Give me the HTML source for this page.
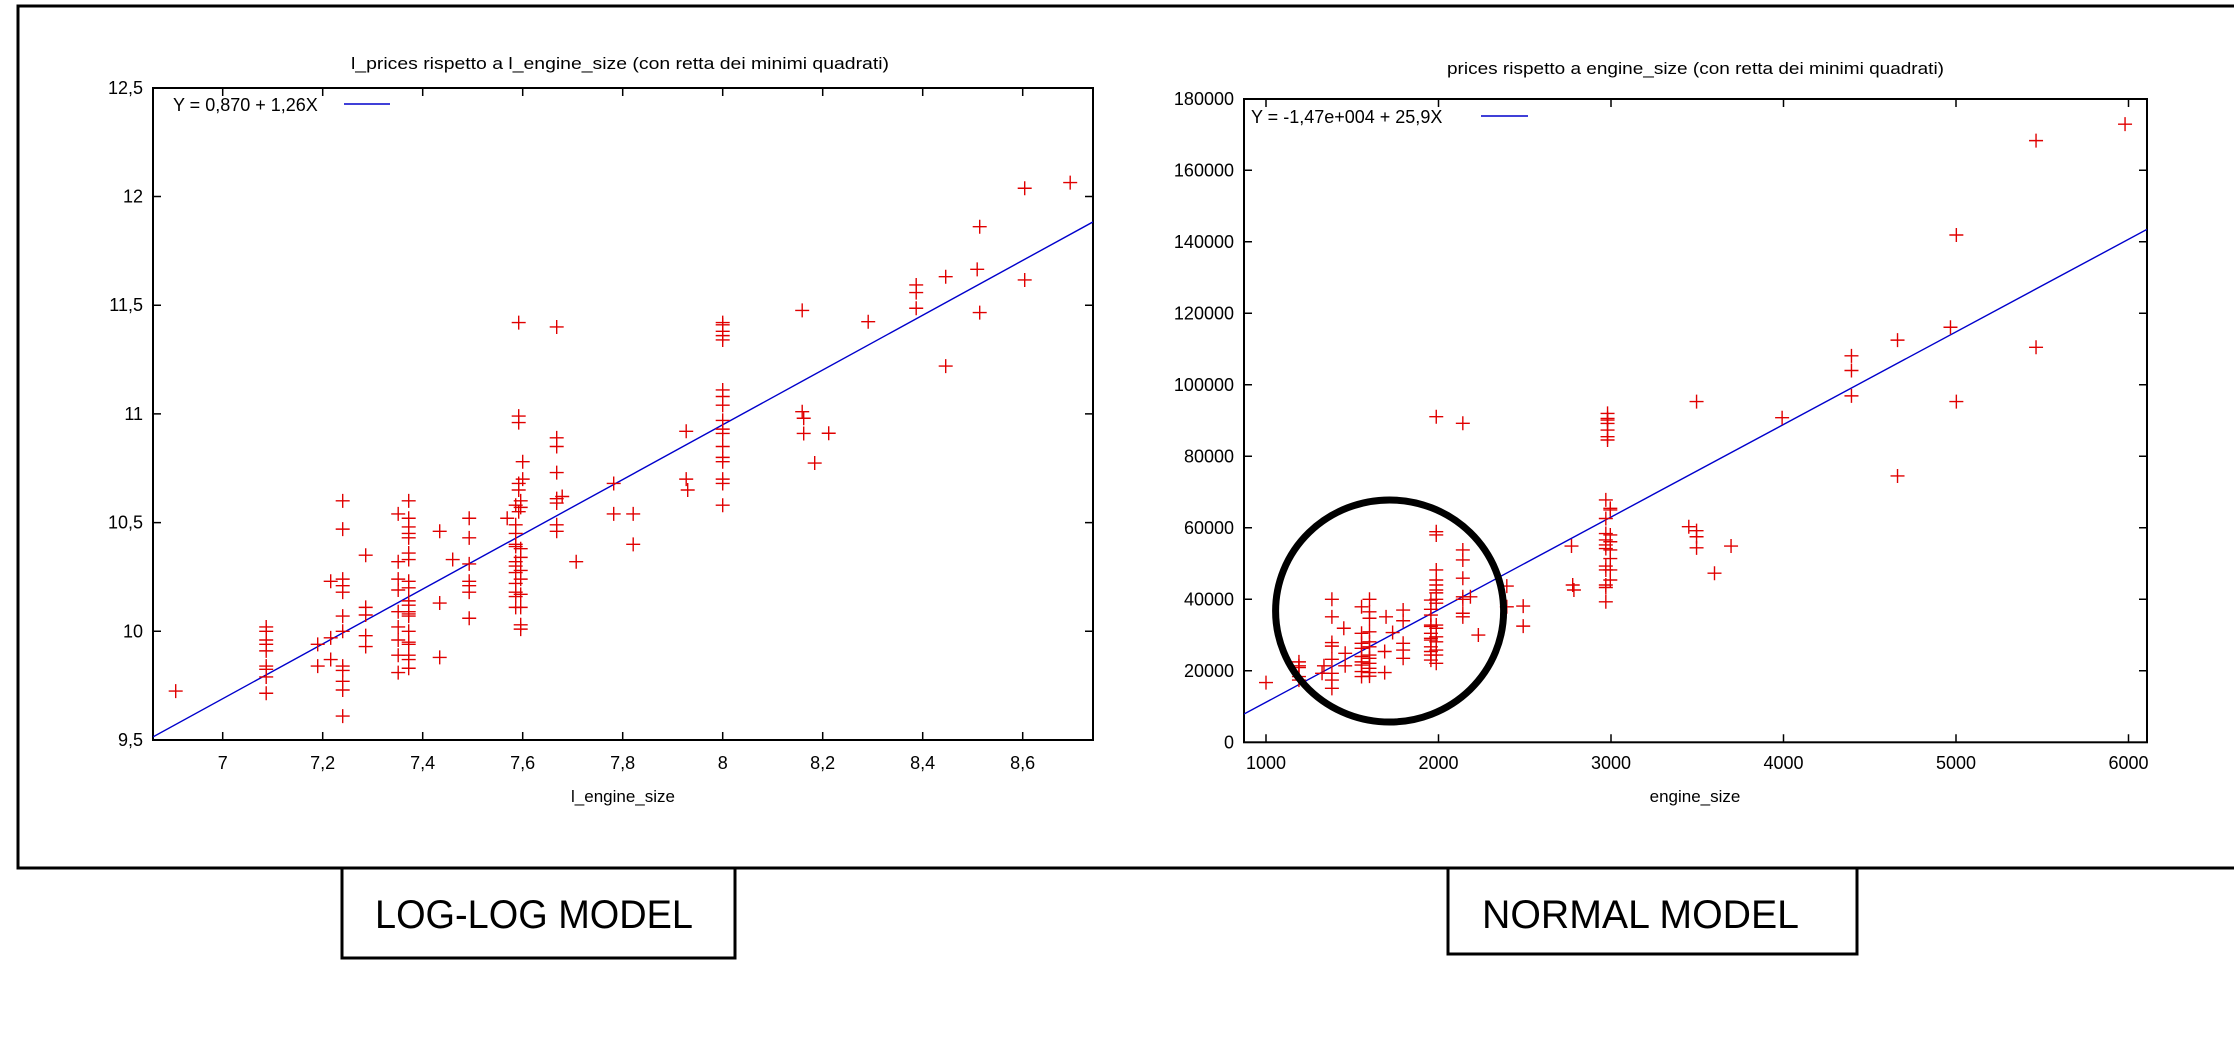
<!DOCTYPE html>
<html><head><meta charset="utf-8"><style>
html,body{margin:0;padding:0;background:#fff;}
svg{display:block;font-family:"Liberation Sans",sans-serif;}
</style></head><body>
<svg id="s" width="2234" height="1049" viewBox="0 0 2234 1049" xmlns="http://www.w3.org/2000/svg">
<defs>
<clipPath id="clipL"><rect x="153" y="88" width="940" height="652"/></clipPath>
<clipPath id="clipR"><rect x="1244" y="99" width="903" height="643"/></clipPath>
</defs>
<rect x="18" y="6" width="2230" height="862" fill="none" stroke="#000" stroke-width="3"/>
<g id="left"></g>
<g id="right"></g>
<ellipse cx="1389.6" cy="611" rx="114" ry="111" fill="none" stroke="#000" stroke-width="7"/>
<rect x="342" y="868" width="393" height="90" fill="#fff" stroke="#000" stroke-width="3"/>
<text x="375" y="928" font-size="40" textLength="318" lengthAdjust="spacingAndGlyphs">LOG-LOG MODEL</text>
<rect x="1448" y="868" width="409" height="86" fill="#fff" stroke="#000" stroke-width="3"/>
<text x="1482" y="928" font-size="40" textLength="317" lengthAdjust="spacingAndGlyphs">NORMAL MODEL</text>
</svg>
<script>
// ---- Left chart data (log-log) ----
const leftX = [6.906,
7.087,7.087,7.087,7.087,7.087,7.087,7.087,7.087,7.087,
7.19,7.19,7.216,7.216,7.216,
7.24,7.24,7.24,7.24,7.24,7.24,7.24,7.24,7.24,7.24,7.24,7.24,
7.286,7.286,7.286,7.286,7.286,
7.351,7.351,7.351,7.351,7.351,7.351,7.351,7.351,7.351,
7.372,7.372,7.372,7.372,7.372,7.372,7.372,7.372,7.372,7.372,7.372,7.372,7.372,7.372,7.372,7.372,7.372,7.372,7.372,7.372,
7.434,7.434,7.434,7.46,
7.493,7.493,7.493,7.493,7.493,7.493,7.493,
7.569,
7.586,7.586,7.586,7.586,7.586,7.586,7.586,7.586,7.586,7.586,7.586,7.586,
7.596,7.596,7.596,7.596,7.596,7.596,7.596,7.596,7.596,7.596,
7.592,7.592,7.592,7.592,7.592,7.592,7.60,7.60,
7.668,7.668,7.668,7.668,7.668,7.668,7.668,7.668,
7.679,7.707,7.782,7.782,7.821,7.821,7.927,7.927,7.93,
8.0,8.0,8.0,8.0,8.0,8.0,8.0,8.0,8.0,8.0,8.0,8.0,8.0,8.0,8.0,8.0,8.0,
8.159,8.159,8.162,8.162,8.184,8.212,8.291,8.387,8.387,8.387,8.446,8.446,8.509,8.514,8.514,8.604,8.604,8.695];
const leftY = [9.725,
10.02,10.0,9.96,9.94,9.91,9.84,9.825,9.79,9.715,
9.94,9.84,10.23,9.87,9.97,
10.6,10.47,10.24,10.21,10.18,10.07,10.0,9.84,9.82,9.77,9.73,9.61,
10.35,10.11,10.075,9.98,9.93,
10.54,10.32,10.24,10.19,10.09,10.02,9.96,9.89,9.81,
10.6,10.52,10.48,10.45,10.43,10.36,10.33,10.23,10.2,10.14,10.12,10.09,10.08,10.07,10.0,9.95,9.94,9.89,9.87,9.83,
10.46,10.13,9.88,10.33,
10.52,10.43,10.31,10.23,10.21,10.18,10.06,
10.52,
10.58,10.49,10.45,10.4,10.39,10.32,10.3,10.27,10.22,10.18,10.16,10.11,
10.6,10.57,10.38,10.34,10.28,10.24,10.17,10.11,10.03,10.01,
11.42,10.99,10.96,10.68,10.65,10.55,10.78,10.70,
10.59,10.49,10.46,11.40,10.89,10.85,10.73,10.61,
10.62,10.32,10.68,10.54,10.54,10.40,10.92,10.70,10.65,
11.42,11.41,11.38,11.36,11.34,11.11,11.08,11.04,10.97,10.93,10.91,10.85,10.80,10.78,10.70,10.68,10.58,
11.476,11.01,10.98,10.91,10.774,10.911,11.424,11.593,11.558,11.486,11.631,11.22,11.665,11.861,11.466,12.038,11.616,12.064];
const leftXTicks = [7,7.2,7.4,7.6,7.8,8,8.2,8.4,8.6];
const leftXTickLabels = ["7","7,2","7,4","7,6","7,8","8","8,2","8,4","8,6"];
const leftYTicks = [9.5,10,10.5,11,11.5,12,12.5];
const leftYTickLabels = ["9,5","10","10,5","11","11,5","12","12,5"];
const leftFit = [0.870, 1.26];

// ---- Right chart data (normal) ----
const rightX = [1000,
1191,1191,1191,1191,1191,1325,1336,
1382,1382,1382,1382,1382,1382,1382,1382,
1451,1459,1459,
1554,1554,1554,1554,1554,1554,1554,1554,1554,
1600,1600,1600,1600,1600,1600,1600,1600,1600,1600,1600,1600,
1696,1688,1688,1734,
1795,1795,1795,1795,1795,
1956,1956,1956,1956,1956,1956,1956,1956,1956,1956,1956,1956,
1987,1987,1987,1987,1987,1987,1987,1987,1987,1987,1987,1987,1987,1987,1987,1987,1987,
2141,2141,2141,2141,2141,2141,2141,2141,
2185,2231,2396,2396,2491,2491,2771,2778,2785,
2980,2980,2980,2980,2980,2980,2980,
2970,2970,2970,2970,2970,2970,2970,2970,2970,2970,2970,
2996,2996,2996,2996,2996,2996,2996,2996,
3451,3496,3496,3496,3600,3696,
3496,3992,4394,4394,4394,4661,4661,4968,5002,5002,5464,5464,5980];
const rightY = [16700,
22500,21400,20900,18400,17400,19300,21400,
40000,35100,27900,26900,23200,19300,17400,15100,
31900,24900,21400,
37900,30500,27700,26300,24000,22500,21600,19800,18400,
40000,36500,34700,30900,28100,26700,24400,23500,22100,20700,19500,18500,
35100,25400,19500,30700,
37000,34000,27700,25800,23500,
39800,37200,35600,32800,32400,30500,29100,28600,26700,25400,24400,23000,
91080,58900,58000,48200,45400,44000,42600,41800,40000,38900,32800,31900,29500,28100,25800,24400,22100,
89230,53800,51000,45900,40700,40000,36100,35100,
40700,30000,43700,37900,38100,32500,54900,44000,42600,
92000,90600,90150,89200,87350,85500,84560,
67800,62600,58400,56600,55200,54200,49300,48200,44000,43300,39300,
65450,65000,58000,56100,53800,51400,48200,45400,
60300,59200,57500,54400,47300,54900,
95300,90800,108100,104000,96900,112500,74500,116100,141900,95300,168300,110500,172900];
const rightXTicks = [1000,2000,3000,4000,5000,6000];
const rightXTickLabels = ["1000","2000","3000","4000","5000","6000"];
const rightYTicks = [0,20000,40000,60000,80000,100000,120000,140000,160000,180000];
const rightYTickLabels = ["0","20000","40000","60000","80000","100000","120000","140000","160000","180000"];
const rightFit = [-14700, 25.9];

const NS = "http://www.w3.org/2000/svg";
function mk(parent, tag, attrs, txt) {
  const e = document.createElementNS(NS, tag);
  for (const k in attrs) e.setAttribute(k, attrs[k]);
  if (txt !== undefined) e.textContent = txt;
  parent.appendChild(e);
  return e;
}

function drawChart(g, cfg) {
  const sx = v => cfg.x0 + (v - cfg.xv0) * cfg.kx;
  const sy = v => cfg.y0 - (v - cfg.yv0) * cfg.ky;
  // title
  const t = mk(g, "text", {x: cfg.titleX, y: cfg.titleY, "font-size": 17, textLength: cfg.titleW, lengthAdjust: "spacingAndGlyphs", fill: "#000"}, cfg.title);
  
  
  // box
  const bx = mk(g, "rect", {x: cfg.bl, y: cfg.bt, width: cfg.br - cfg.bl, height: cfg.bb - cfg.bt, fill: "none", stroke: "#000", "stroke-width": 2});
  
  
  // x ticks
  cfg.xt.forEach((v, i) => {
    const px = sx(v);
    const tk = mk(g, "path", {d: `M${px},${cfg.bb}v-8M${px},${cfg.bt}v8`, stroke: "#000", "stroke-width": 1.5});
    
    
    const lb = mk(g, "text", {x: px, y: 769, "font-size": 18, "text-anchor": "middle"}, cfg.xtl[i]);
    
    
  });
  cfg.yt.forEach((v, i) => {
    const py = sy(v);
    const tk = mk(g, "path", {d: `M${cfg.bl},${py}h8M${cfg.br},${py}h-8`, stroke: "#000", "stroke-width": 1.5});
    
    
    const lb = mk(g, "text", {x: cfg.bl - 10, y: py + 6, "font-size": 18, "text-anchor": "end"}, cfg.ytl[i]);
    
    
  });
  const xl = mk(g, "text", {x: cfg.xlabX, y: 802, "font-size": 17, "text-anchor": "middle"}, cfg.xlab);
  
  
  // regression line
  const xa = cfg.xv0 + (cfg.bl - cfg.x0) / cfg.kx, xb = cfg.xv0 + (cfg.br - cfg.x0) / cfg.kx;
  const ln = mk(g, "line", {x1: sx(xa), y1: sy(cfg.fit[0] + cfg.fit[1] * xa), x2: sx(xb), y2: sy(cfg.fit[0] + cfg.fit[1] * xb), stroke: "#0000cc", "stroke-width": 1.4, "clip-path": cfg.clip});
  
  
  // points
  const pg = mk(g, "g", {stroke: "#e00000", "stroke-width": 1.4, fill: "none"});
  
  
  cfg.xs.forEach((v, i) => {
    const px = sx(v), py = sy(cfg.ys[i]);
    const p = mk(pg, "path", {d: `M${px-7},${py}h14M${px},${py-7}v14`});
    
    
  });
  // legend
  const lt = mk(g, "text", {x: cfg.legX, y: cfg.legY, "font-size": 18}, cfg.legText);
  
  
  const ll = mk(g, "line", {x1: cfg.legL1, y1: cfg.legY - 7, x2: cfg.legL2, y2: cfg.legY - 7, stroke: "#0000cc", "stroke-width": 1.4});
  
  
}

drawChart(document.getElementById("left"), {
  x0: 222.7, xv0: 7, kx: 500, y0: 740, yv0: 9.5, ky: 217.4,
  bl: 153, br: 1093, bt: 88, bb: 740,
  xs: leftX, ys: leftY, xt: leftXTicks, xtl: leftXTickLabels, yt: leftYTicks, ytl: leftYTickLabels,
  fit: leftFit, clip: "url(#clipL)",
  title: "l_prices rispetto a l_engine_size (con retta dei minimi quadrati)", titleX: 351, titleY: 69, titleW: 538,
  xlab: "l_engine_size", xlabX: 623,
  legText: "Y = 0,870 + 1,26X", legX: 173, legY: 111, legL1: 344, legL2: 390
});
drawChart(document.getElementById("right"), {
  x0: 1266, xv0: 1000, kx: 0.1725, y0: 742.3, yv0: 0, ky: 0.003575,
  bl: 1244, br: 2147, bt: 99, bb: 742.3,
  xs: rightX, ys: rightY, xt: rightXTicks, xtl: rightXTickLabels, yt: rightYTicks, ytl: rightYTickLabels,
  fit: rightFit, clip: "url(#clipR)",
  title: "prices rispetto a engine_size (con retta dei minimi quadrati)", titleX: 1447, titleY: 74, titleW: 497,
  xlab: "engine_size", xlabX: 1695,
  legText: "Y = -1,47e+004 + 25,9X", legX: 1251, legY: 123, legL1: 1481, legL2: 1528
});
</script>
</body></html>
